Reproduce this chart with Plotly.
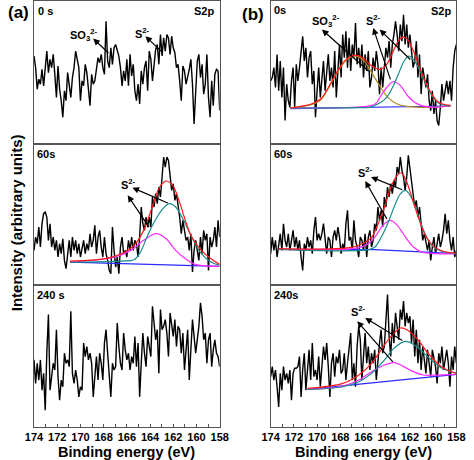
import numpy as np
import plotly.graph_objects as go

# ---------------- data (arbitrary intensity units) ----------------
# x grid: binding energy, 174 -> 158 eV
E_MAX, E_MIN = 174, 158

a0_raw = [285, 250, 185, 215, 200, 245, 195, 260, 300, 235, 275, 250, 290, 230, 160, 255, 185, 150, 100, 180,
          150, 235, 190, 160, 220, 250, 300, 270, 250, 150, 210, 195, 260, 235, 190, 135, 230, 200, 210, 250,
          280, 265, 290, 250, 230, 390, 270, 250, 310, 260, 310, 320, 305, 285, 250, 195, 240, 210, 275, 195,
          290, 225, 260, 180, 150, 200, 140, 240, 200, 250, 270, 180, 300, 275, 210, 250, 305, 320, 260, 350,
          285, 340, 300, 350, 340, 290, 345, 310, 295, 250, 260, 210, 150, 255, 240, 200, 220, 245, 275, 200,
          80, 190, 270, 290, 220, 260, 170, 200, 290, 160, 100, 210, 135, 230, 245, 240, 120]

a60_raw = [170, 210, 190, 240, 180, 250, 280, 285, 270, 200, 250, 180, 210, 170, 200, 150, 190, 160, 205, 140,
           115, 160, 200, 150, 210, 170, 200, 160, 190, 150, 180, 200, 160, 190, 170, 220, 180, 200, 245, 160,
           210, 230, 180, 150, 210, 160, 140, 110, 100, 240, 170, 120, 150, 100, 180, 210, 160, 170, 150, 200,
           170, 210, 170, 200, 190, 150, 210, 300, 250, 230, 270, 240, 270, 240, 330, 300, 340, 310, 360, 330,
           390, 450, 420, 450, 440, 400, 350, 370, 320, 340, 310, 270, 220, 260, 230, 200, 210, 170, 220, 105,
           170, 200, 170, 140, 210, 160, 230, 200, 220, 110, 210, 180, 200, 240, 180, 260, 210]

a240_raw = [260, 190, 250, 200, 260, 170, 220, 110, 280, 395, 170, 220, 250, 230, 350, 210, 140, 200, 180, 280,
            250, 260, 240, 405, 220, 190, 230, 200, 150, 180, 170, 310, 270, 300, 260, 280, 250, 150, 210, 270,
            200, 280, 250, 200, 310, 350, 280, 210, 150, 250, 230, 240, 370, 300, 250, 230, 340, 290, 260, 280,
            230, 270, 250, 330, 240, 310, 150, 250, 340, 280, 240, 330, 300, 270, 420, 370, 320, 350, 220, 410,
            350, 360, 380, 340, 270, 400, 370, 330, 380, 300, 360, 350, 280, 340, 230, 300, 350, 200, 300, 380,
            330, 280, 320, 360, 430, 390, 320, 340, 250, 320, 340, 240, 290, 320, 280, 270, 240]

b0_raw = [260, 270, 300, 240, 340, 230, 320, 210, 300, 140, 250, 200, 180, 260, 300, 180, 310, 260, 300, 340,
          395, 320, 360, 270, 330, 350, 250, 290, 150, 230, 300, 210, 270, 320, 230, 290, 340, 260, 300, 240,
          350, 210, 300, 370, 270, 400, 330, 410, 300, 390, 290, 370, 330, 435, 310, 360, 300, 370, 270, 340,
          290, 350, 240, 270, 330, 290, 350, 310, 220, 300, 240, 310, 360, 330, 380, 300, 370, 400, 440, 400,
          350, 430, 380, 460, 370, 430, 360, 400, 340, 300, 320, 380, 270, 340, 220, 300, 270, 240, 280, 200,
          170, 230, 160, 200, 140, 125, 180, 250, 200, 230, 260, 220, 260, 200, 300, 350, 370]

b60_raw = [160, 210, 170, 200, 150, 190, 220, 170, 250, 200, 180, 220, 170, 200, 230, 180, 210, 170, 200, 150,
           110, 190, 170, 210, 180, 200, 160, 230, 270, 200, 220, 200, 220, 250, 200, 160, 210, 200, 150, 210,
           230, 200, 240, 210, 160, 190, 170, 250, 290, 200, 210, 170, 260, 200, 180, 150, 210, 200, 170, 220,
           150, 210, 230, 180, 200, 250, 230, 300, 260, 290, 240, 330, 300, 360, 330, 370, 340, 380, 360, 420,
           400, 450, 410, 390, 350, 390, 455, 420, 380, 340, 300, 320, 270, 300, 240, 200, 220, 190, 170, 200,
           140, 180, 210, 160, 190, 220, 180, 200, 230, 280, 220, 260, 200, 170, 210, 150, 170]

b240_raw = [210, 240, 200, 230, 180, 120, 220, 170, 240, 200, 220, 190, 230, 140, 220, 235, 235, 240, 270, 150,
            230, 280, 170, 230, 290, 200, 310, 210, 230, 200, 270, 180, 240, 300, 260, 310, 240, 150, 250, 280,
            210, 270, 250, 290, 220, 230, 280, 200, 250, 300, 340, 200, 250, 180, 300, 360, 320, 200, 280, 340,
            250, 300, 230, 280, 250, 290, 200, 270, 310, 350, 280, 300, 370, 455, 330, 270, 370, 310, 400, 350,
            320, 410, 380, 435, 360, 400, 370, 390, 310, 380, 270, 350, 250, 320, 230, 300, 260, 220, 290, 250,
            210, 290, 260, 240, 190, 280, 250, 300, 230, 260, 290, 250, 180, 270, 230, 300, 250]

# ---- fitted components ----
# panel (b) 0 s
b0_base_E = [172.3, 165.0, 158.5]
b0_base_v = [176, 180, 184]
b0_so3_E = [172.3, 171.4, 170.5, 169.7, 168.9, 168.1, 167.4, 166.7, 166.0, 165.3, 164.6, 163.9, 163.1, 162.0, 160.3, 158.5]
b0_so3_v = [178, 182, 188, 202, 245, 295, 325, 335, 322, 285, 245, 210, 190, 182, 180, 184]
b0_mag_E = [172.3, 168.0, 166.0, 165.0, 164.5, 164.0, 163.4, 162.8, 162.2, 161.6, 161.0, 160.0, 158.5]
b0_mag_v = [178, 179, 182, 190, 215, 240, 258, 245, 215, 195, 185, 180, 184]
b0_teal_E = [172.3, 166.5, 165.5, 164.5, 164.0, 163.5, 163.0, 162.5, 162.1, 161.6, 161.0, 160.5, 160.0, 159.5, 159.0, 158.5]
b0_teal_v = [178, 179, 180, 195, 210, 240, 280, 320, 335, 320, 280, 240, 210, 192, 186, 184]
b0_red_E = [172.3, 171.4, 170.5, 169.7, 168.9, 168.1, 167.4, 166.7, 166.0, 165.3, 164.6, 164.0, 163.5, 163.0, 162.6,
            162.2, 161.7, 161.2, 160.7, 160.2, 159.7, 159.2, 158.5]
b0_red_v = [178, 183, 190, 205, 248, 298, 328, 338, 328, 305, 295, 310, 345, 380, 392, 385, 350, 305, 260, 225, 200, 190, 186]

# panel (a) 60 s
a60_base_E = [170.9, 158.0]
a60_base_v = [135, 122]
a60_mag_E = [170.9, 167.04, 165.66, 164.55, 163.45, 162.62, 161.79, 160.96, 160.13, 158.0]
a60_mag_v = [135, 150, 170, 200, 220, 205, 170, 145, 128, 122]
a60_teal_E = [170.9, 166.5, 165.38, 164.83, 164.27, 163.72, 162.89, 162.34, 161.79, 161.1, 160.41, 159.58, 158.75, 158.0]
a60_teal_v = [135, 138, 142, 165, 210, 250, 295, 310, 300, 260, 210, 160, 135, 125]
a60_red_E = [170.9, 167.87, 166.48, 165.38, 164.55, 163.72, 163.17, 162.62, 162.06, 161.51, 160.96, 160.41, 159.58, 158.75, 158.0]
a60_red_v = [138, 145, 160, 185, 230, 310, 360, 378, 365, 320, 260, 210, 170, 145, 128]

# panel (b) 60 s
b60_base_E = [173.31, 165.0, 158.0]
b60_base_v = [173, 172, 160]
b60_mag_E = [173.31, 166.95, 165.85, 165.02, 164.33, 163.69, 163.09, 162.39, 161.70, 161.01, 159.77, 158.0]
b60_mag_v = [173, 175, 185, 210, 245, 260, 245, 210, 180, 165, 160, 160]
b60_teal_E = [173.31, 165.57, 165.02, 164.47, 163.92, 163.36, 162.81, 162.39, 161.98, 161.43, 160.88, 160.32, 159.77, 158.94, 158.0]
b60_teal_v = [173, 172, 180, 210, 250, 300, 340, 350, 335, 290, 235, 195, 175, 165, 160]
b60_red_E = [173.31, 167.23, 166.13, 165.30, 164.74, 164.19, 163.64, 163.09, 162.75, 162.39, 161.84, 161.29, 160.74, 160.05, 159.22, 158.0]
b60_red_v = [175, 178, 190, 210, 250, 300, 360, 395, 402, 385, 330, 270, 220, 185, 168, 162]

# panel (b) 240 s
b240_base_E = [170.82, 158.0]
b240_base_v = [172, 217]
b240_mag_E = [170.82, 167.78, 166.40, 165.30, 164.19, 163.36, 162.53, 161.70, 160.88, 159.77, 158.0]
b240_mag_v = [172, 182, 200, 225, 245, 252, 240, 225, 215, 215, 217]
b240_teal_E = [170.82, 167.78, 166.40, 165.30, 164.19, 163.36, 162.39, 161.43, 160.32, 159.22, 158.0]
b240_teal_v = [172, 180, 195, 220, 260, 295, 315, 300, 265, 235, 220]
b240_red_E = [170.82, 167.78, 166.40, 165.30, 164.19, 163.36, 162.81, 162.26, 161.43, 160.32, 159.22, 158.0]
b240_red_v = [175, 190, 215, 250, 305, 340, 355, 350, 325, 275, 238, 220]

tick_vals = [174, 172, 170, 168, 166, 164, 162, 160, 158]
tick_text = [str(v) for v in tick_vals]

# ---------------- figure ----------------
W, H = 474, 460
FONT = "Liberation Sans, Arial, sans-serif"
FRAME = "#555555"
C_RED, C_TEAL, C_MAG, C_BLUE, C_OLIVE = "#ff1a1a", "#1a8c8c", "#ff2aff", "#2a2aff", "#b08a20"

fig = go.Figure()

def px_x(p):
    return p / W

def px_y(p):
    return 1 - p / H

cols = {"a": (px_x(26), px_x(219)), "b": (px_x(272), px_x(465))}
rows = [(px_y(143), px_y(0.5)), (px_y(285), px_y(143)), (px_y(427), px_y(285))]
yr = [[20, 450], [65, 490], [60, 482], [70, 500], [65, 490], [60, 482]]

panels = [("a", 0), ("a", 1), ("a", 2), ("b", 0), ("b", 1), ("b", 2)]
for i, (c, r) in enumerate(panels):
    n = "" if i == 0 else str(i + 1)
    bottom = r == 2
    fig.update_layout(**{
        "xaxis" + n: dict(domain=list(cols[c]), anchor="y" + n, range=[E_MAX, E_MIN],
                          showline=True, mirror=True, linecolor=FRAME, linewidth=1,
                          showgrid=False, zeroline=False,
                          tickvals=tick_vals if bottom else [], ticktext=tick_text,
                          showticklabels=bottom, ticks="inside" if bottom else "",
                          ticklen=3, tickcolor=FRAME,
                          minor=dict(dtick=1, tick0=158, ticks="inside" if bottom else "",
                                     ticklen=3, tickcolor=FRAME),
                          tickfont=dict(family=FONT, size=11, color="black", weight="bold")),
        "yaxis" + n: dict(domain=list(rows[r]), anchor="x" + n, range=yr[i],
                          showline=True, mirror=True, linecolor=FRAME, linewidth=1,
                          showgrid=False, zeroline=False, showticklabels=False, ticks=""),
    })

def add_line(ax_i, x, y, color, width=1.2, shape="spline"):
    n = "" if ax_i == 0 else str(ax_i + 1)
    fig.add_trace(go.Scatter(x=x, y=y, mode="lines", xaxis="x" + n, yaxis="y" + n,
                             line=dict(color=color, width=width, shape=shape, smoothing=1.0),
                             showlegend=False, hoverinfo="skip"))

raws = [a0_raw, a60_raw, a240_raw, b0_raw, b60_raw, b240_raw]
for i, raw in enumerate(raws):
    add_line(i, np.linspace(E_MAX, E_MIN, len(raw)), raw, "black", 1.4, "linear")

# fits
add_line(1, a60_base_E, a60_base_v, C_BLUE, shape="linear")
add_line(1, a60_mag_E, a60_mag_v, C_MAG)
add_line(1, a60_teal_E, a60_teal_v, C_TEAL)
add_line(1, a60_red_E, a60_red_v, C_RED)

add_line(3, b0_base_E, b0_base_v, C_BLUE, shape="linear")
add_line(3, b0_so3_E, b0_so3_v, C_OLIVE)
add_line(3, b0_mag_E, b0_mag_v, C_MAG)
add_line(3, b0_teal_E, b0_teal_v, C_TEAL)
add_line(3, b0_red_E, b0_red_v, C_RED)

add_line(4, b60_base_E, b60_base_v, C_BLUE, shape="linear")
add_line(4, b60_mag_E, b60_mag_v, C_MAG)
add_line(4, b60_teal_E, b60_teal_v, C_TEAL)
add_line(4, b60_red_E, b60_red_v, C_RED)

add_line(5, b240_base_E, b240_base_v, C_BLUE, shape="linear")
add_line(5, b240_mag_E, b240_mag_v, C_MAG)
add_line(5, b240_teal_E, b240_teal_v, C_TEAL)
add_line(5, b240_red_E, b240_red_v, C_RED)

ann = []

def text_paper(x, y, t, size=11, xanchor="left"):
    ann.append(dict(x=px_x(x), y=px_y(y), xref="paper", yref="paper", text=t, showarrow=False,
                    xanchor=xanchor, yanchor="middle",
                    font=dict(family=FONT, size=size, color="black", weight="bold")))

def text_data(ax_i, x, y, t, size=11):
    n = "" if ax_i == 0 else str(ax_i + 1)
    ann.append(dict(x=x, y=y, xref="x" + n, yref="y" + n, text=t, showarrow=False,
                    xanchor="center", yanchor="middle",
                    font=dict(family=FONT, size=size, color="black", weight="bold")))

def arrow(ax_i, tail, head):
    n = "" if ax_i == 0 else str(ax_i + 1)
    ann.append(dict(x=head[0], y=head[1], ax=tail[0], ay=tail[1], xref="x" + n, yref="y" + n,
                    axref="x" + n, ayref="y" + n, text="", showarrow=True,
                    arrowhead=2, arrowsize=1.1, arrowwidth=1.2, arrowcolor="black"))

# panel labels
text_paper(10, 12, "(a)", 17, "center")
text_paper(254, 14, "(b)", 17, "center")

# time labels
text_paper(28, 10, "0 s")
text_paper(27, 153, "60s")
text_paper(27, 295, "240 s")
text_paper(273, 9, "0s")
text_paper(273, 153, "60s")
text_paper(273, 295, "240s")
text_paper(215, 10, "S2p", 11, "right")
text_paper(462, 10, "S2p", 11, "right")

SO3 = "SO<sub>3</sub><sup>2-</sup>"
S2 = "S<sup>2-</sup>"

# (a) 0 s
text_data(0, 169.74, 350, SO3)
arrow(0, (167.45, 290), (168.9, 338))
text_data(0, 164.69, 355, S2)
arrow(0, (162.9, 295), (164.4, 345))

# (a) 60 s
text_data(1, 165.9, 370, S2)
arrow(1, (162.34, 310), (165.52, 358))
arrow(1, (164.0, 235), (165.93, 335))

# (b) 0 s
text_data(3, 169.3, 442, SO3)
arrow(3, (165.43, 285), (169.58, 415))
text_data(3, 165.1, 445, S2)
arrow(3, (163.64, 260), (165.16, 420))
arrow(3, (161.84, 320), (164.6, 415))

# (b) 60 s
text_data(4, 165.85, 405, S2)
arrow(4, (162.53, 350), (165.35, 390))
arrow(4, (163.92, 260), (165.85, 378))

# (b) 240 s
text_data(5, 166.46, 405, S2)
arrow(5, (162.53, 315), (165.85, 385))
arrow(5, (163.36, 250), (166.54, 375))

# axis titles
ann.append(dict(x=px_x(8), y=px_y(222), xref="paper", yref="paper", text="Intensity (arbitrary units)",
                showarrow=False, textangle=-90, xanchor="center", yanchor="middle",
                font=dict(family=FONT, size=15, color="black", weight="bold")))
for cx in (122.5, 368.5):
    ann.append(dict(x=px_x(cx), y=px_y(452), xref="paper", yref="paper", text="Binding energy (eV)",
                    showarrow=False, xanchor="center", yanchor="middle",
                    font=dict(family=FONT, size=14.5, color="black", weight="bold")))

fig.update_layout(width=W, height=H, margin=dict(l=0, r=0, t=0, b=0),
                  paper_bgcolor="white", plot_bgcolor="white", annotations=ann,
                  showlegend=False)

fig.write_html("out.html")
